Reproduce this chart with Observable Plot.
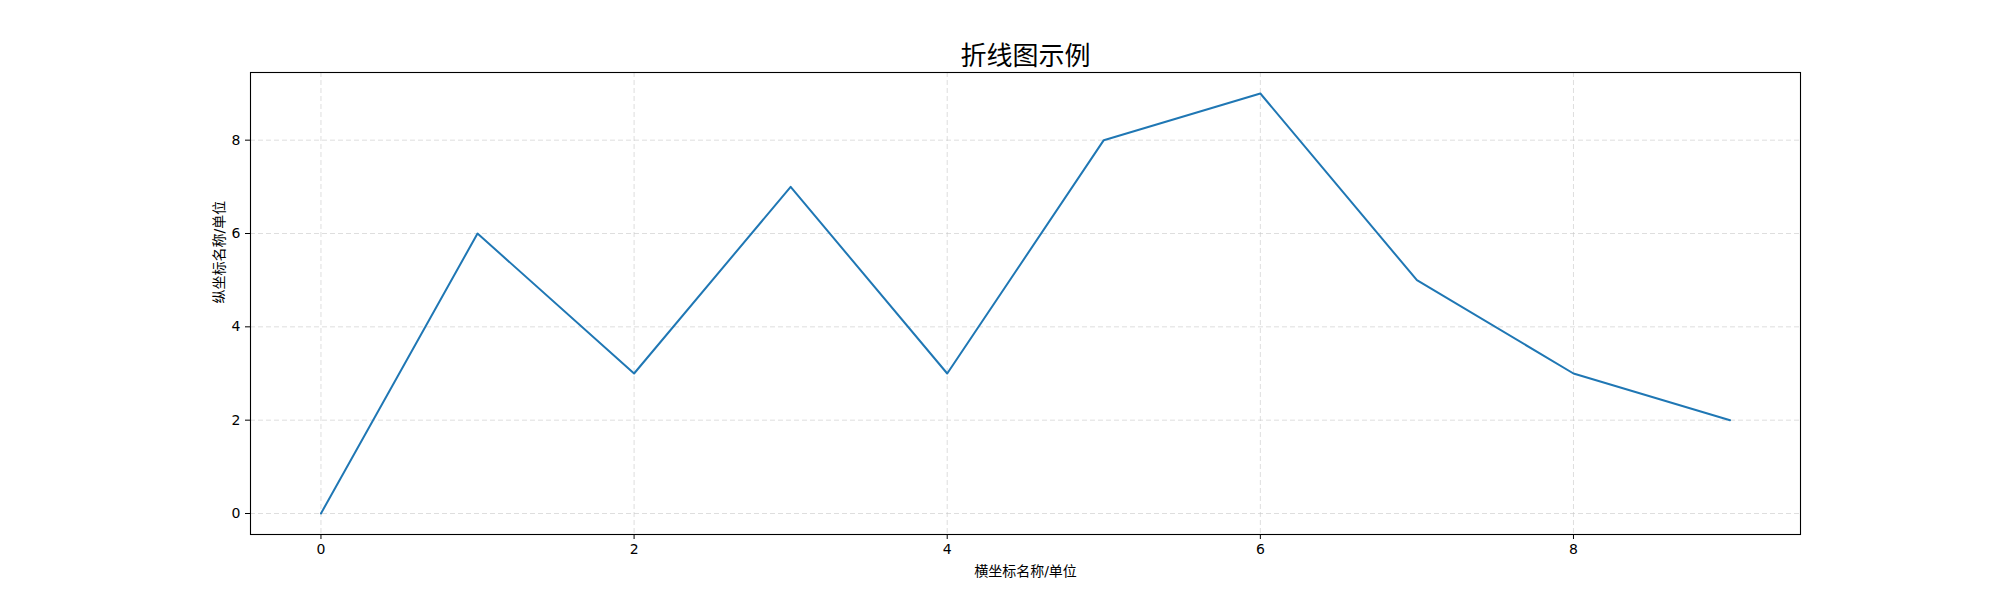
<!DOCTYPE html>
<html>
<head>
<meta charset="utf-8">
<script src="https://cdn.jsdelivr.net/npm/d3@7"></script>
<script src="https://cdn.jsdelivr.net/npm/@observablehq/plot@0.6"></script>
<style>
  html, body { margin: 0; padding: 0; background: #fff; }
  svg { display: block; }
</style>
</head>
<body>
<div id="chart"></div>
<script>
const xValues = [0, 1, 2, 3, 4, 5, 6, 7, 8, 9];
const yValues = [0, 6, 3, 7, 3, 8, 9, 5, 3, 2];
const xTicks = [0, 2, 4, 6, 8];
const yTicks = [0, 2, 4, 6, 8];
const titleText = "折线图示例";
const xLabel = "横坐标名称/单位";
const yLabel = "纵坐标名称/单位";

const data = xValues.map((x, i) => ({x, y: yValues[i]}));
const font = "DejaVu Sans, Noto Sans CJK SC, sans-serif";

const chart = Plot.plot({
  width: 2000,
  height: 600,
  marginLeft: 250,
  marginRight: 200,
  marginTop: 72,
  marginBottom: 66,
  style: {fontFamily: font, fontSize: "14px", color: "#000", background: "#fff"},
  x: {domain: [-0.45, 9.45]},
  y: {domain: [-0.45, 9.45]},
  marks: [
    Plot.gridX(xTicks, {stroke: "#c8c8c8", strokeOpacity: 0.6, strokeDasharray: "5,3", strokeWidth: 1}),
    Plot.gridY(yTicks, {stroke: "#c8c8c8", strokeOpacity: 0.6, strokeDasharray: "5,3", strokeWidth: 1}),
    Plot.axisX(xTicks, {tickSize: 5, tickPadding: 5, label: null, fontSize: 14, stroke: "#000", tickFormat: d3.format("d")}),
    Plot.axisY(yTicks, {tickSize: 5, tickPadding: 5, label: null, fontSize: 14, stroke: "#000", tickFormat: d3.format("d")}),
    Plot.line(data, {x: "x", y: "y", stroke: "#1f77b4", strokeWidth: 2}),
    Plot.frame({stroke: "#000", strokeWidth: 1.1}),
    Plot.text([titleText], {frameAnchor: "top", dy: -8, fontSize: 26, lineAnchor: "bottom", fill: "#000"}),
    Plot.text([xLabel], {frameAnchor: "bottom", dy: 37, fontSize: 14, lineAnchor: "middle", fill: "#000"}),
    Plot.text([yLabel], {frameAnchor: "left", dx: -31, rotate: -90, fontSize: 14, lineAnchor: "middle", fill: "#000"})
  ]
});
document.getElementById("chart").appendChild(chart);
</script>
</body>
</html>
